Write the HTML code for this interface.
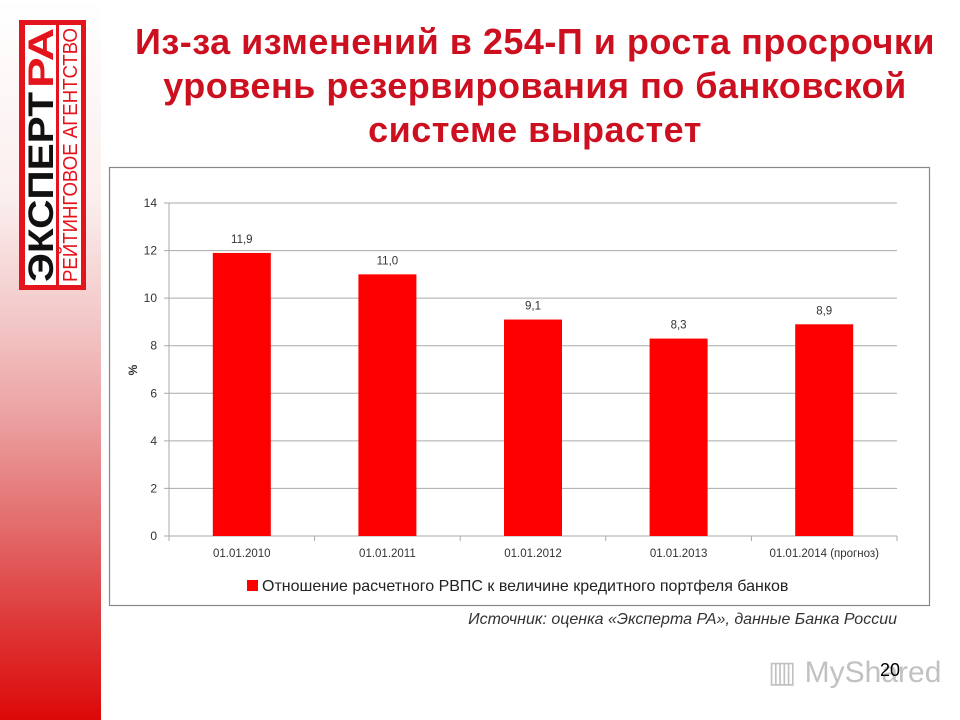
<!DOCTYPE html>
<html><head><meta charset="utf-8"><style>
body{margin:0;width:960px;height:720px;position:relative;background:#fff;font-family:"Liberation Sans",sans-serif;overflow:hidden}
#strip{position:absolute;left:0;top:0;width:101px;height:720px;background:linear-gradient(#fff 0px,#fbeeee 200px,#f2c4c4 330px,#eba0a0 420px,#e36a6a 530px,#de3a3a 620px,#dd0808 720px)}
#title{position:absolute;left:110px;top:20px;width:850px;text-align:center;color:#cc1020;font-weight:bold;font-size:36px;line-height:44px;letter-spacing:0.5px}
</style></head><body>
<div id="strip"></div>
<svg style="position:absolute;left:0;top:0" width="110" height="300">
 <rect x="19" y="20" width="67" height="270" fill="#e4141c"/>
 <rect x="25" y="25" width="31" height="260" fill="#fff"/>
 <rect x="59" y="25" width="22" height="260" fill="#fff"/>
 <text transform="translate(53,282) rotate(-90)" font-family="Liberation Sans" font-weight="bold" font-size="35" fill="#111" textLength="190" lengthAdjust="spacingAndGlyphs">ЭКСПЕРТ</text>
 <text transform="translate(53,88) rotate(-90)" font-family="Liberation Sans" font-weight="bold" font-size="35" fill="#e4141c" textLength="60" lengthAdjust="spacingAndGlyphs">РА</text>
 <text transform="translate(77,282) rotate(-90)" font-family="Liberation Sans" font-size="20" fill="#e4141c" textLength="254" lengthAdjust="spacingAndGlyphs">РЕЙТИНГОВОЕ АГЕНТСТВО</text>
</svg>
<div id="title">Из-за изменений в 254-П и роста просрочки<br>уровень резервирования по банковской<br>системе вырастет</div>
<svg id="chart" style="position:absolute;left:0;top:0" width="960" height="720"></svg>
<div style="position:absolute;left:300px;top:611px;width:597px;text-align:right;font-style:italic;font-size:16px;color:#333">Источник: оценка «Эксперта РА», данные Банка России</div>
<div style="position:absolute;left:768px;top:655px;font-size:30px;color:#999;opacity:.6">▥ MyShared</div>
<div style="position:absolute;left:880px;top:660px;font-size:18px;color:#000">20</div>
<script>
const categories=["01.01.2010","01.01.2011","01.01.2012","01.01.2013","01.01.2014 (прогноз)"];
const values=[11.9,11.0,9.1,8.3,8.9];
const valueLabels=["11,9","11,0","9,1","8,3","8,9"];
const yTicks=[0,2,4,6,8,10,12,14];
const NS="http://www.w3.org/2000/svg";
const svg=document.getElementById("chart");
const x0=169,x1=897,yTop=203,yBot=536,yMax=14;
const y=v=>yBot-(v/yMax)*(yBot-yTop);
const bw=(x1-x0)/categories.length;
const xc=i=>x0+bw*(i+0.5);
function el(t,a,txt){const e=document.createElementNS(NS,t);for(const k in a)e.setAttribute(k,a[k]);if(txt!=null)e.textContent=txt;svg.appendChild(e);return e;}
const frame=el("rect",{x:109.5,y:167.5,width:820,height:438,fill:"none",stroke:"#888","stroke-width":1.2});


yTicks.forEach(t=>{
 const g=el("line",{x1:x0-5,x2:x1,y1:y(t),y2:y(t),stroke:"#aaa","stroke-width":1});
 
 
 const l=el("text",{x:157,y:y(t)+4,"text-anchor":"end","font-size":12,fill:"#333"},t);
 
 
});
const ax=el("line",{x1:x0,x2:x0,y1:yTop,y2:yBot+4,stroke:"#aaa"});


for(let i=0;i<=categories.length;i++){const tk=el("line",{x1:x0+bw*i,x2:x0+bw*i,y1:yBot,y2:yBot+5,stroke:"#aaa"});
 
 }
const yt=el("text",{transform:"translate(137,370) rotate(-90)","text-anchor":"middle","font-size":12,"font-weight":"bold",fill:"#333"},"%");


categories.forEach((c,i)=>{
 const b=el("rect",{x:xc(i)-29,y:y(values[i]),width:58,height:yBot-y(values[i]),fill:"#ff0000"});
 
 
 const v=el("text",{x:xc(i),y:y(values[i])-10,"text-anchor":"middle","font-size":11.5,fill:"#333"},valueLabels[i]);
 
 
 const cl=el("text",{x:xc(i),y:557,"text-anchor":"middle","font-size":11.5,fill:"#333"},c);
 
 
});
const lg=el("rect",{x:247,y:580,width:11,height:11,fill:"#ff0000"});


const lt=el("text",{x:262,y:591,"font-size":16,fill:"#222"},"Отношение расчетного РВПС к величине кредитного портфеля банков");


</script>
</body></html>
